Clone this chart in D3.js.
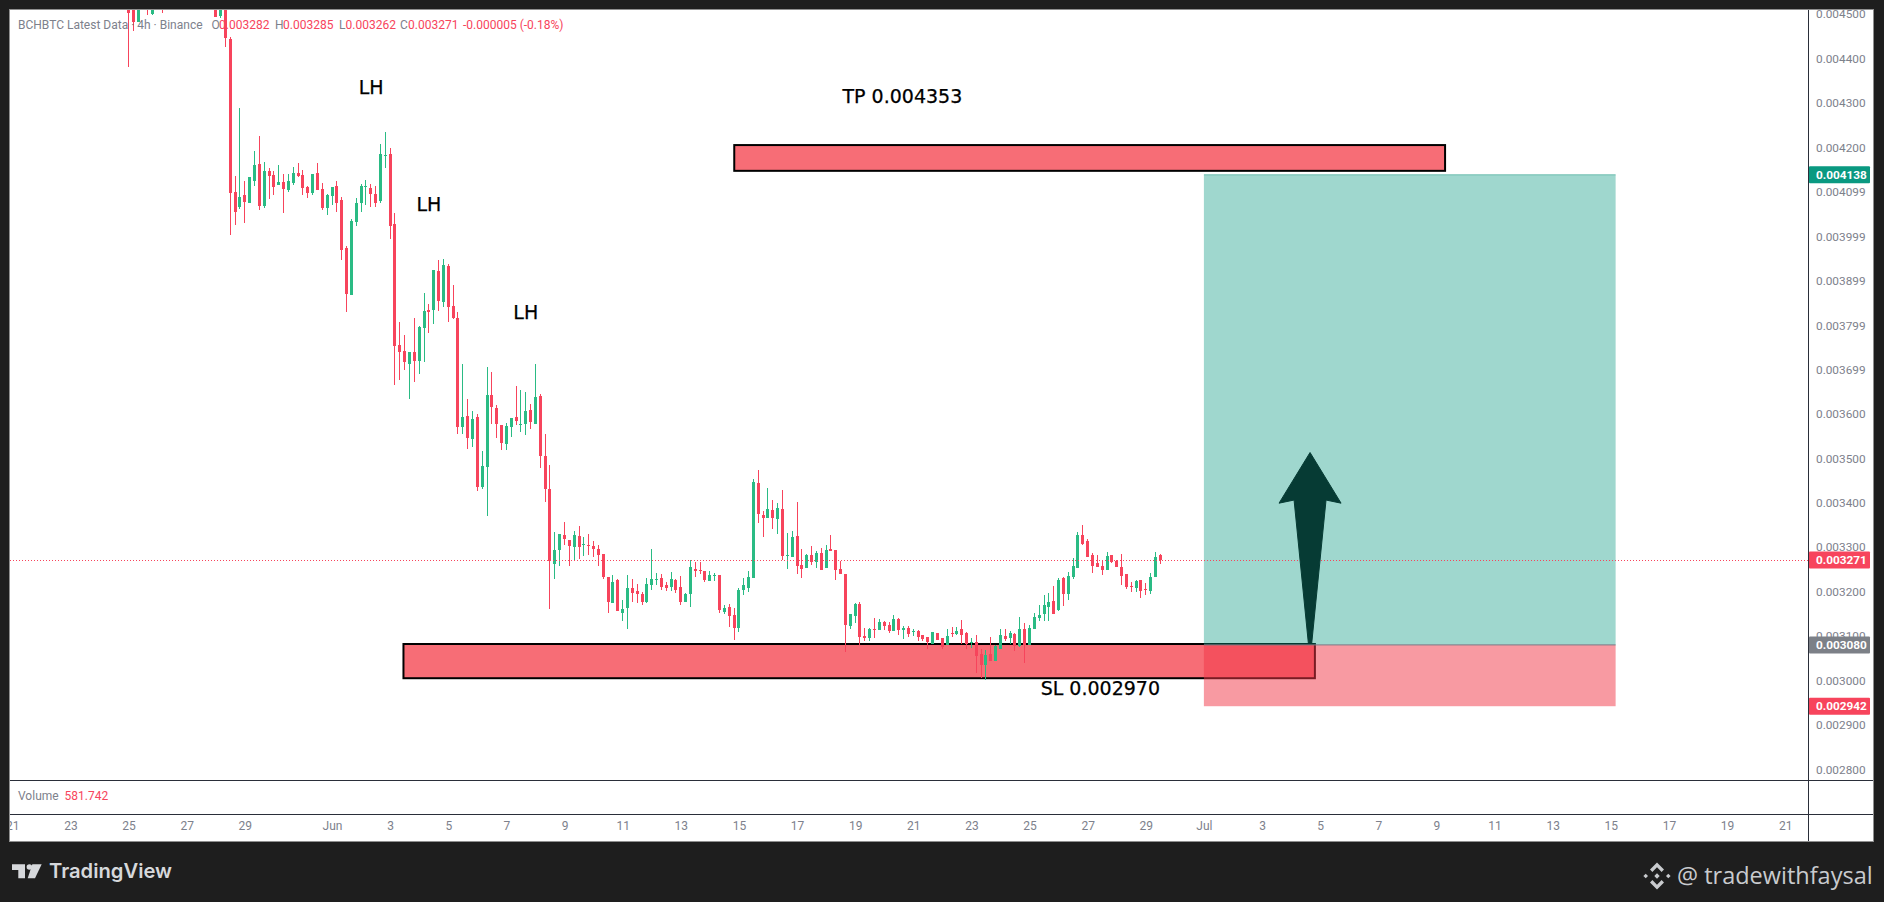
<!DOCTYPE html>
<html><head><meta charset="utf-8">
<script src="https://cdn.jsdelivr.net/npm/d3@7/dist/d3.min.js"></script>
<style>html,body{margin:0;padding:0;background:#1e1e1e;overflow:hidden}svg{display:block}</style>
</head><body><svg id="c" width="1884" height="902"></svg>
<script>
// Prices are in millionths of a BTC (3271 = 0.003271). One candle every 4 hours.
const firstCandle = Date.UTC(2023,4,25,0);  // first visible candle, 21 bars before May 28 12:00
const opens = [4560,4560,4483,4570,4580,4500,4590,4600,4610,4620,4600,4590,4610,4630,4610,4600,4620,4610,4590,4496,4570,
4444,4099,4066,4093,4075,4124,4162,4068,4147,4138,4115,4122,4104,4120,4142,4138,4111,4097,4142,4106,4063,4090,4113,4081,3973,3868,4032,4075,4111,4108,4095,4079,4180,4185,
4027,3755,3742,3712,3739,3719,3793,3834,3834,3922,3852,3933,3843,3816,3571,3595,3544,3593,3436,3481,3643,3613,3575,3532,3571,3593,3575,3577,3609,3577,3640,
3505,3431,3262,3294,3327,3316,3300,3325,3305,3305,3303,3296,3285,3233,3174,3226,3152,3163,3208,3201,3195,3177,3215,3226,3231,3215,3210,3226,3210,3177,3195,3251,3249,3246,3224,3235,3237,3154,3165,3147,3118,3204,3208,3231,3444,3372,3366,3384,3363,3386,3280,3278,3325,3260,3253,3282,3267,3287,3253,3296,3294,3251,3240,
3123,3145,3172,3100,3096,3116,3114,3132,3125,3111,3138,3114,3118,3109,3111,3102,3098,3082,3107,3096,3080,3107,3105,3116,3107,3085,3087,3060,3035,3060,3044,3071,3100,3096,3105,3078,3116,3080,3116,3141,3150,3165,3179,3159,3231,3195,3233,3253,3327,3314,3282,3264,3258,3249,3282,3269,3255,3240,3213,3208,3226,3206,3201,3233,3282];
const highs = [4600,4580,4590,4600,4590,4600,4610,4620,4640,4650,4630,4620,4640,4650,4640,4620,4640,4630,4610,4600,4590,
4448,4135,4288,4124,4133,4192,4225,4167,4153,4147,4160,4140,4140,4156,4165,4149,4113,4140,4165,4120,4095,4111,4124,4088,3978,4039,4086,4117,4126,4117,4113,4207,4234,4198,
4052,3807,3778,3739,3816,3798,3872,3847,3924,3946,3949,3937,3890,3829,3712,3634,3607,3600,3517,3706,3694,3620,3575,3580,3591,3663,3654,3649,3622,3712,3645,
3555,3485,3334,3330,3357,3316,3336,3348,3323,3330,3314,3305,3285,3233,3237,3228,3181,3237,3228,3217,3199,3231,3296,3242,3240,3222,3244,3228,3235,3197,3271,3267,3267,3246,3246,3242,3237,3170,3172,3163,3208,3231,3246,3453,3474,3381,3433,3406,3399,3429,3332,3336,3402,3296,3285,3303,3291,3298,3305,3327,3294,3269,3240,
3150,3174,3177,3118,3118,3141,3138,3134,3132,3147,3141,3123,3123,3116,3114,3102,3098,3109,3107,3096,3116,3120,3120,3136,3109,3096,3102,3071,3069,3098,3080,3116,3116,3111,3107,3143,3129,3125,3152,3170,3192,3197,3213,3231,3233,3244,3276,3334,3350,3318,3287,3282,3271,3289,3282,3271,3285,3240,3222,3226,3226,3219,3242,3289,3285];
const lows = [4381,4462,4483,4530,4498,4498,4540,4502,4560,4580,4570,4550,4560,4580,4560,4550,4560,4540,4493,4490,4426,
4003,4025,4061,4030,4075,4113,4059,4063,4084,4093,4115,4052,4099,4115,4133,4093,4086,4093,4104,4059,4048,4070,4054,3946,3829,3868,4023,4054,4070,4066,4066,4075,4153,3994,
3665,3676,3699,3634,3672,3690,3717,3782,3802,3832,3841,3807,3814,3555,3555,3521,3526,3427,3431,3370,3577,3546,3519,3519,3548,3575,3559,3553,3566,3577,3478,
3402,3161,3228,3258,3305,3258,3269,3273,3280,3282,3278,3258,3228,3152,3174,3156,3134,3116,3177,3174,3170,3174,3204,3215,3204,3201,3201,3197,3170,3177,3165,3233,3240,3222,3224,3224,3152,3150,3120,3091,3109,3192,3199,3231,3354,3323,3366,3341,3330,3271,3251,3278,3240,3231,3253,3260,3253,3249,3253,3291,3226,3240,3064,
3116,3129,3080,3089,3089,3096,3114,3114,3107,3111,3102,3093,3098,3100,3089,3089,3071,3082,3091,3071,3080,3098,3102,3082,3071,3073,3017,3006,3001,3044,3044,3071,3089,3082,3066,3075,3039,3080,3116,3134,3134,3134,3150,3156,3168,3181,3229,3253,3305,3278,3242,3255,3237,3249,3264,3255,3215,3206,3199,3199,3186,3192,3195,3233,3262];
const closes = [4503,4483,4570,4580,4510,4590,4560,4540,4620,4590,4610,4630,4590,4610,4620,4640,4600,4590,4493,4570,4446,
4098,4054,4088,4077,4133,4160,4068,4147,4135,4111,4122,4106,4124,4142,4135,4108,4097,4140,4104,4063,4093,4111,4075,3969,3870,4034,4075,4113,4113,4095,4075,4185,4183,4023,
3753,3739,3717,3739,3719,3796,3832,3829,3924,3854,3935,3841,3816,3571,3593,3546,3589,3436,3483,3643,3616,3577,3535,3573,3591,3584,3577,3607,3582,3638,3505,
3431,3269,3294,3330,3318,3303,3327,3300,3307,3303,3296,3282,3233,3177,3222,3156,3161,3208,3197,3195,3177,3217,3228,3228,3210,3208,3228,3204,3177,3195,3255,3246,3246,3226,3237,3237,3159,3163,3145,3118,3204,3215,3233,3447,3375,3366,3386,3366,3388,3280,3282,3323,3258,3251,3282,3267,3287,3249,3294,3291,3249,3240,3125,
3150,3172,3098,3096,3116,3114,3132,3123,3111,3138,3114,3118,3105,3111,3098,3093,3087,3109,3091,3075,3100,3105,3111,3102,3082,3087,3055,3035,3058,3044,3078,3102,3093,3107,3078,3116,3080,3118,3143,3147,3170,3177,3150,3226,3195,3235,3258,3327,3307,3278,3258,3255,3249,3280,3267,3255,3235,3210,3210,3224,3201,3204,3233,3278,3271];

const priceTicks = [4500,4400,4300,4200,4099,3999,3899,3799,3699,3600,3500,3400,3300,3200,3100,3000,2900,2800];
const lastPrice = 3271, targetPrice = 4138, entryPrice = 3080, stopPrice = 2942;
const dateTicks = ["2023-05-21","2023-05-23","2023-05-25","2023-05-27","2023-05-29","2023-06-01","2023-06-03","2023-06-05","2023-06-07","2023-06-09","2023-06-11","2023-06-13","2023-06-15","2023-06-17","2023-06-19","2023-06-21","2023-06-23","2023-06-25","2023-06-27","2023-06-29","2023-07-01","2023-07-03","2023-07-05","2023-07-07","2023-07-09","2023-07-11","2023-07-13","2023-07-15","2023-07-17","2023-07-19","2023-07-21"];
const dateLabels = ["21","23","25","27","29","Jun","3","5","7","9","11","13","15","17","19","21","23","25","27","29","Jul","3","5","7","9","11","13","15","17","19","21"];
const legendTexts = ["BCHBTC Latest Data · 4h · Binance","O","0.003282","H","0.003285","L","0.003262","C","0.003271","-0.000005 (-0.18%)"];
const volumeValue = "581.742";
const upperZone = {t0:"2023-06-14T20:10Z", t1:"2023-07-09T07:10Z", p0:4205, p1:4147};
const lowerZone = {t0:"2023-06-03T11:00Z", t1:"2023-07-04T19:40Z", p0:3082, p1:3005};
const positionSpan = ["2023-07-01T00:00Z","2023-07-15T04:00Z"];
const arrowCentre = "2023-07-04T15:40Z";
const arrowHours = [0,25.6,13.2,1.4,-1.4,-13.2,-25.6];
const arrowPrices = [3513,3399,3406,3084,3084,3406,3399];
const notes = [["LH","2023-06-02T08:20Z",4321],["LH","2023-06-04T08:00Z",4057],["LH","2023-06-07T16:00Z",3814],["TP 0.004353","2023-06-20T15:00Z",4299],["SL 0.002970","2023-06-27T10:30Z",2968]];

const RED="#f7445c", GREEN="#2abb84", LINE="#2a2e39", TXT="#7d818c";
const L=10,R=1808.5,T=10,B=780;
const x=d3.scaleUtc().domain([Date.UTC(2023,4,28,12),Date.UTC(2023,5,29,12)]).range([230.3,1160.3]);
const y=d3.scaleLinear().domain([2800,4500]).range([769.3,14]);
const svg=d3.select("#c");
const defs=svg.append("defs");
defs.append("clipPath").attr("id","pane").append("rect").attr("x",L).attr("y",T).attr("width",R-L).attr("height",B-T);
defs.append("clipPath").attr("id","paxis").append("rect").attr("x",R).attr("y",T).attr("width",65).attr("height",B-T);
defs.append("clipPath").attr("id","taxis").append("rect").attr("x",L).attr("y",815).attr("width",R-L).attr("height",26);

svg.append("rect").attr("x",9.5).attr("y",9.5).attr("width",1864).attr("height",832).attr("fill","#fff").attr("stroke","#8f8f8f");

const pane=svg.append("g").attr("clip-path","url(#pane)");
const zone=(z)=>pane.append("rect").attr("x",x(new Date(z.t0))).attr("y",y(z.p0))
  .attr("width",x(new Date(z.t1))-x(new Date(z.t0))).attr("height",y(z.p1)-y(z.p0))
  .attr("fill","#f76d76").attr("stroke","#000").attr("stroke-width",2);
zone(upperZone); zone(lowerZone);

// candles
const candles=opens.map((o,i)=>({t:new Date(firstCandle+i*4*3600e3),o,h:highs[i],l:lows[i],c:closes[i]}));
const cg=pane.append("g").attr("shape-rendering","crispEdges");
const col=d=>d.c>=d.o?GREEN:RED;
cg.selectAll("rect.w").data(candles).join("rect").attr("class","w")
  .attr("x",d=>Math.floor(x(d.t))).attr("width",1).attr("y",d=>y(d.h)).attr("height",d=>y(d.l)-y(d.h)).attr("fill",col);
cg.selectAll("rect.b").data(candles).join("rect").attr("class","b")
  .attr("x",d=>Math.floor(x(d.t))-1).attr("width",3).attr("y",d=>y(Math.max(d.o,d.c)))
  .attr("height",d=>Math.max(1,Math.abs(y(d.o)-y(d.c)))).attr("fill",col);

// long position tool
const px0=x(new Date(positionSpan[0])),px1=x(new Date(positionSpan[1]));
pane.append("rect").attr("x",px0).attr("width",px1-px0).attr("y",y(targetPrice)).attr("height",y(entryPrice)-y(targetPrice)).attr("fill","rgba(8,153,129,0.39)");
pane.append("rect").attr("x",px0).attr("width",px1-px0).attr("y",y(entryPrice)).attr("height",y(stopPrice)-y(entryPrice)).attr("fill","rgba(242,54,69,0.5)");
pane.append("line").attr("x1",px0).attr("x2",px1).attr("y1",y(targetPrice)).attr("y2",y(targetPrice)).attr("stroke","#6cbcae");
pane.append("line").attr("x1",px0).attr("x2",px1).attr("y1",y(entryPrice)).attr("y2",y(entryPrice)).attr("stroke","#787b86");

// last price line
pane.append("line").attr("x1",L).attr("x2",R).attr("y1",y(lastPrice)).attr("y2",y(lastPrice))
  .attr("stroke",RED).attr("stroke-dasharray","1 2").attr("shape-rendering","crispEdges");

// arrow
const ac=+new Date(arrowCentre);
const arrowLine=d3.line().x((h)=>x(new Date(ac+h*3600e3))).y((h,i)=>y(arrowPrices[i])).curve(d3.curveLinearClosed);
pane.append("path").attr("d",arrowLine(arrowHours)).attr("fill","#063b34").attr("stroke","#063b34").attr("stroke-width",1).attr("stroke-linejoin","round");

// annotation text
pane.selectAll("text.note").data(notes).join("text").attr("class","note").text(d=>d[0])
  .attr("x",d=>x(new Date(d[1]))).attr("y",d=>y(d[2])).attr("text-anchor","middle")
  .attr("font-family","'DejaVu Sans'").attr("font-size",19).attr("fill","#000").attr("stroke","#000").attr("stroke-width",0.25);

// legend
const legendX=[18,211.5,219,275,283,339,345.5,400,408,463];
const legendCol=[TXT,TXT,RED,TXT,RED,TXT,RED,TXT,RED,RED];
svg.append("g").selectAll("text").data(legendTexts).join("text").text(d=>d)
  .attr("x",(d,i)=>legendX[i]).attr("y",29).attr("fill",(d,i)=>legendCol[i])
  .attr("font-family","Roboto").attr("font-size",12);

// structure lines
const frame=svg.append("g").attr("stroke",LINE).attr("shape-rendering","crispEdges");
frame.append("line").attr("x1",R).attr("x2",R).attr("y1",T).attr("y2",841);
frame.append("line").attr("x1",L).attr("x2",1873).attr("y1",B).attr("y2",B);
frame.append("line").attr("x1",L).attr("x2",1873).attr("y1",814).attr("y2",814);

// price axis
const pa=svg.append("g").attr("clip-path","url(#paxis)").append("g").attr("transform",`translate(${R},0)`)
  .call(d3.axisRight(y).tickValues(priceTicks).tickSize(0).tickPadding(7.5).tickFormat(d=>"0."+String(d).padStart(6,"0")));
pa.select(".domain").remove();
pa.selectAll("text").attr("font-family","Roboto").attr("font-size",11.8).attr("fill",TXT);

// price badges
const badges=[[targetPrice,"#0a9981"],[lastPrice,RED],[entryPrice,"#7c8087"],[stopPrice,RED]];
const bg=svg.append("g");
bg.selectAll("rect").data(badges).join("rect").attr("x",R+0.5).attr("width",61).attr("height",17).attr("rx",1)
  .attr("y",d=>y(d[0])-8.5).attr("fill",d=>d[1]);
bg.selectAll("text").data(badges).join("text").text(d=>"0."+String(d[0]).padStart(6,"0"))
  .attr("x",R+7.5).attr("y",d=>y(d[0])+4.2).attr("fill","#fff").attr("font-family","Roboto").attr("font-weight",700).attr("font-size",11.8);

// time axis
const labelOf=new Map(dateTicks.map((d,i)=>[+new Date(d+"T00:00Z"),dateLabels[i]]));
const ta=svg.append("g").attr("clip-path","url(#taxis)").append("g").attr("transform","translate(0,814)")
  .call(d3.axisBottom(x).tickValues(dateTicks.map(d=>new Date(d+"T00:00Z"))).tickSize(0).tickPadding(7).tickFormat(d=>labelOf.get(+d)));
ta.select(".domain").remove();
ta.selectAll("text").attr("font-family","Roboto").attr("font-size",12).attr("fill",TXT);

// volume legend
svg.append("text").text("Volume").attr("x",18).attr("y",800).attr("fill",TXT).attr("font-family","Roboto").attr("font-size",12);
svg.append("text").text(volumeValue).attr("x",64.5).attr("y",800).attr("fill",RED).attr("font-family","Roboto").attr("font-size",12);

// footer: TradingView mark
const ft=svg.append("g").attr("fill","#d6d8db");
ft.append("path").attr("d","M12 864.3H25V878.3H18.3V870H12Z");
ft.append("circle").attr("cx",29.4).attr("cy",867).attr("r",2.8);
ft.append("path").attr("d","M32.3 864.3H41.7L35 878.3H27.7Z");
ft.append("text").text("TradingView").attr("x",49).attr("y",878).attr("font-family","Inter").attr("font-weight",600).attr("font-size",20.2);
// Binance mark
const bn=svg.append("g").attr("fill","#c9cbce").attr("transform","translate(1657,876)");
bn.append("path").attr("d","M0 -13.5L7 -6.5L4.6 -4.1L0 -8.7L-4.6 -4.1L-7 -6.5Z");
bn.append("path").attr("d","M0 13.5L7 6.5L4.6 4.1L0 8.7L-4.6 4.1L-7 6.5Z");
bn.append("path").attr("d","M0 -2.7L2.7 0L0 2.7L-2.7 0Z");
bn.append("path").attr("d","M-11.3 -2.3L-9 0L-11.3 2.3L-13.6 0Z");
bn.append("path").attr("d","M11.3 -2.3L13.6 0L11.3 2.3L9 0Z");
ft.append("text").text("@ tradewithfaysal").attr("x",1677).attr("y",884).attr("font-family","'Open Sans'").attr("font-size",23.5).attr("fill","#c9cbce");
</script></body></html>
